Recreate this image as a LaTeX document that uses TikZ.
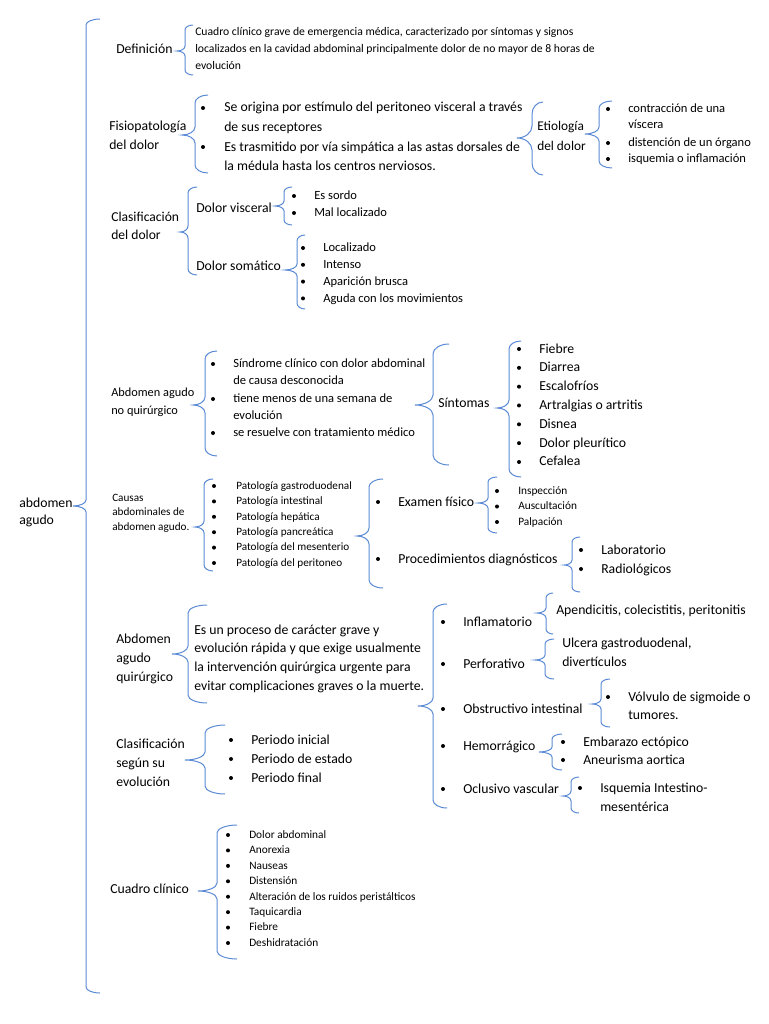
\documentclass[tikz,border=0pt]{standalone}
\usepackage{fontspec}
\setmainfont{Carlito}
\definecolor{bcol}{HTML}{5B8BD5}
% brace: x, top, bottom, cusp y, tip length, cusp length, arc radius
\newcommand\brc[7]{\draw[bline] ({#1+#5},#2) .. controls ({#1+0.448*#5},#2) and (#1,{#2+0.448*#7}) .. (#1,{#2+#7}) -- (#1,{#4-#7}) .. controls (#1,{#4-0.448*#7}) and ({#1-0.448*#6},#4) .. ({#1-#6},#4) .. controls ({#1-0.448*#6},#4) and (#1,{#4+0.448*#7}) .. (#1,{#4+#7}) -- (#1,{#3-#7}) .. controls (#1,{#3-0.448*#7}) and ({#1+0.448*#5},#3) .. ({#1+#5},#3);}
\newcommand\bdot[2]{\fill[bul] (#1,#2) circle[radius=2];}
\newcommand\lns[1]{\vtop{\let\\\cr\halign{##\hfil\cr#1\crcr}}}
\tikzset{
  bline/.style={draw=bcol, line width=0.75pt},
  bul/.style={fill=black},
  txt/.style={inner sep=0pt, anchor=base west},
  fL/.style={font=\fontsize{10.3}{14.2}\selectfont, yshift=-3pt},
  fM/.style={font=\fontsize{9.4}{12.9}\selectfont, yshift=-2.7pt},
  fS/.style={font=\fontsize{8.5}{11.6}\selectfont, yshift=-2.5pt},
}
\begin{document}
\begin{tikzpicture}[x=0.75pt,y=-0.75pt]
\fill[white] (0,0) rectangle (768,1024);
\useasboundingbox (0,0) rectangle (768,1024);

% root
\node[txt,fL,font=\fontsize{10.3}{12.75}\selectfont] (root) at (19,503) {\lns{abdomen\\agudo}};
\brc{86}{19}{993}{506}{14}{13}{6}

% Definicion
\node[txt,fL] (def) at (116,50) {Definición};
\brc{185}{25}{75}{51}{8}{8}{5}
\node[txt,fL,font=\fontsize{8.75}{12.75}\selectfont] (deftext) at (195,32) {\lns{Cuadro clínico grave de emergencia médica, caracterizado por síntomas y signos\\localizados en la cavidad abdominal principalmente dolor de no mayor de 8 horas de\\evolución}};

% Fisiopatologia
\node[txt,fL,font=\fontsize{10.3}{14.25}\selectfont] (fis) at (109,126) {\lns{Fisiopatología\\del dolor}};
\brc{195}{95}{173}{135}{13}{13}{8}
\bdot{203}{108}
\node[txt,fL,font=\fontsize{10.3}{14.6}\selectfont] (fis1) at (224,108) {\lns{Se origina por estímulo del peritoneo visceral a través\\de sus receptores}};
\bdot{203}{147}
\node[txt,fL,font=\fontsize{10.3}{14.6}\selectfont] (fis2) at (224,147) {\lns{Es trasmitido por vía simpática a las astas dorsales de\\la médula hasta los centros nerviosos.}};
\brc{532}{102}{175}{138}{11}{15}{12}
\node[txt,fL,font=\fontsize{10}{15}\selectfont] (eti) at (537,126) {\lns{Etiología\\del dolor}};
\brc{599}{101}{168}{134}{13}{14}{7}
\bdot{608}{109}
\node[txt,fM,font=\fontsize{9.4}{12.2}\selectfont] (eti1) at (628,109) {\lns{contracción de una\\víscera}};
\bdot{608}{143}
\node[txt,fM] (eti2) at (628,143) {distención de un órgano};
\bdot{608}{159}
\node[txt,fM] (eti3) at (628,159) {isquemia o inflamación};

% Clasificacion del dolor
\node[txt,fL,font=\fontsize{10.2}{13.5}\selectfont] (cla) at (111,217) {\lns{Clasificación\\del dolor}};
\brc{188}{187}{275}{232}{9}{8}{6}
\node[txt,fL] (vis) at (196,208) {Dolor visceral};
\brc{284}{187}{225}{206}{8}{9}{5}
\foreach \t [count=\i] in {Es sordo,Mal localizado}{
  \pgfmathsetmacro\yy{196+(\i-1)*17}
  \bdot{294}{\yy}
  \node[txt,fM] (vis\i) at (314,\yy) {\t};
}
\node[txt,fL] (som) at (196,266) {Dolor somático};
\brc{297}{235}{309}{270}{8}{12}{6}
\foreach \t [count=\i] in {Localizado,Intenso,Aparición brusca,Aguda con los movimientos}{
  \pgfmathsetmacro\yy{248+(\i-1)*16.8}
  \bdot{303}{\yy}
  \node[txt,fM] (som\i) at (323,\yy) {\t};
}

% Abdomen agudo no quirurgico
\node[txt,fM,font=\fontsize{9.25}{13.5}\selectfont] (noq) at (111,393) {\lns{Abdomen agudo\\no quirúrgico}};
\brc{205}{351}{456}{405}{12}{12}{8}
\bdot{213}{364}
\node[txt,fM,font=\fontsize{9.4}{13}\selectfont] (noq1) at (233,364) {\lns{Síndrome clínico con dolor abdominal\\de causa desconocida}};
\bdot{213}{399}
\node[txt,fM,font=\fontsize{9.4}{13}\selectfont] (noq2) at (233,399) {\lns{tiene menos de una semana de\\evolución}};
\bdot{213}{433}
\node[txt,fM] (noq3) at (233,433) {se resuelve con tratamiento médico};
\brc{433}{344}{465}{405}{16}{18}{10}
\node[txt,fL] (sin) at (438,403) {Síntomas};
\brc{509}{341}{477}{408}{12}{12}{8}
\foreach \t [count=\i] in {Fiebre,Diarrea,Escalofríos,Artralgias o artritis,Disnea,Dolor pleurítico,Cefalea}{
  \pgfmathsetmacro\yy{349+(\i-1)*18.83}
  \bdot{519}{\yy}
  \node[txt,fL] (sin\i) at (539,\yy) {\t};
}

% Causas
\node[txt,fS,font=\fontsize{8.4}{10.9}\selectfont] (cau) at (112,498) {\lns{Causas\\abdominales de\\abdomen agudo.}};
\brc{204}{479}{571}{527}{9}{9}{6}
\foreach \t [count=\i] in {Patología gastroduodenal,Patología intestinal,Patología hepática,Patología pancreática,Patología del mesenterio,Patología del peritoneo}{
  \pgfmathsetmacro\yy{486+(\i-1)*15.4}
  \bdot{214}{\yy}
  \node[txt,fS,font=\fontsize{8.4}{11}\selectfont] (cau\i) at (236,\yy) {\t};
}
\brc{369}{479}{588}{536}{14}{12}{8}
\bdot{378}{502}
\node[txt,fL] (exa) at (398,502) {Examen físico};
\bdot{378}{559}
\node[txt,fL] (pro) at (398,559) {Procedimientos diagnósticos};
\brc{488}{477}{533}{503}{9}{10}{5}
\foreach \t [count=\i] in {Inspección,Auscultación,Palpación}{
  \pgfmathsetmacro\yy{491+(\i-1)*15.5}
  \bdot{497}{\yy}
  \node[txt,fS] (exa\i) at (518,\yy) {\t};
}
\brc{572}{537}{592}{565}{8}{8}{5}
\foreach \t [count=\i] in {Laboratorio,Radiológicos}{
  \pgfmathsetmacro\yy{550+(\i-1)*19}
  \bdot{581}{\yy}
  \node[txt,fL] (pro\i) at (601,\yy) {\t};
}

% Abdomen agudo quirurgico
\node[txt,fL,font=\fontsize{10.3}{14.25}\selectfont] (qui) at (116,639) {\lns{Abdomen\\agudo\\quirúrgico}};
\brc{188}{605}{703}{654}{19}{16}{8}
\node[txt,fL,font=\fontsize{10.3}{14}\selectfont] (quitext) at (194,630) {\lns{Es un proceso de carácter grave y\\evolución rápida y que exige usualmente\\la intervención quirúrgica urgente para\\evitar complicaciones graves o la muerte.}};
\brc{433}{604}{808}{706}{14}{15}{8}
\foreach \t/\yy [count=\i] in {Inflamatorio/622,Perforativo/664,Obstructivo intestinal/709,Hemorrágico/746,Oclusivo vascular/789}{
  \bdot{443}{\yy}
  \node[txt,fL] (tip\i) at (463,\yy) {\t};
}
\brc{546}{593}{634}{613}{7}{9}{5}
\node[txt,fL] (inf) at (556,610) {Apendicitis, colecistitis, peritonitis};
\brc{545}{639}{679}{660}{9}{10}{5}
\node[txt,fL,font=\fontsize{10.3}{14.25}\selectfont] (per) at (562,643) {\lns{Ulcera gastroduodenal,\\divertículos}};
\brc{601}{679}{727}{704}{9}{9}{5}
\bdot{608}{697}
\node[txt,fL,font=\fontsize{10.3}{13.5}\selectfont] (obs) at (628,697) {\lns{Vólvulo de sigmoide o\\tumores.}};
\brc{552}{734}{770}{752}{10}{13}{5}
\foreach \t [count=\i] in {Embarazo ectópico,Aneurisma aortica}{
  \pgfmathsetmacro\yy{742+(\i-1)*18}
  \bdot{563}{\yy}
  \node[txt,fL] (hem\i) at (583,\yy) {\t};
}
\brc{571}{777}{813}{796}{8}{8}{5}
\bdot{580}{788}
\node[txt,fL,font=\fontsize{10.3}{14.25}\selectfont] (ocl) at (600,788) {\lns{Isquemia Intestino-\\mesentérica}};

% Clasificacion segun su evolucion
\node[txt,fL,font=\fontsize{10.3}{14.25}\selectfont] (evo) at (116,744) {\lns{Clasificación\\según su\\evolución}};
\brc{205}{725}{794}{760}{20}{20}{8}
\foreach \t [count=\i] in {Periodo inicial,Periodo de estado,Periodo final}{
  \pgfmathsetmacro\yy{740+(\i-1)*19}
  \bdot{231}{\yy}
  \node[txt,fL] (evo\i) at (251,\yy) {\t};
}

% Cuadro clinico
\node[txt,fL] (cua) at (110,889) {Cuadro clínico};
\brc{217}{825}{959}{891}{20}{19}{8}
\foreach \t [count=\i] in {Dolor abdominal,Anorexia,Nauseas,Distensión,Alteración de los ruidos peristálticos,Taquicardia,Fiebre,Deshidratación}{
  \pgfmathsetmacro\yy{835+(\i-1)*15.43}
  \bdot{228}{\yy}
  \node[txt,fS] (cua\i) at (249,\yy) {\t};
}
\end{tikzpicture}
\end{document}
